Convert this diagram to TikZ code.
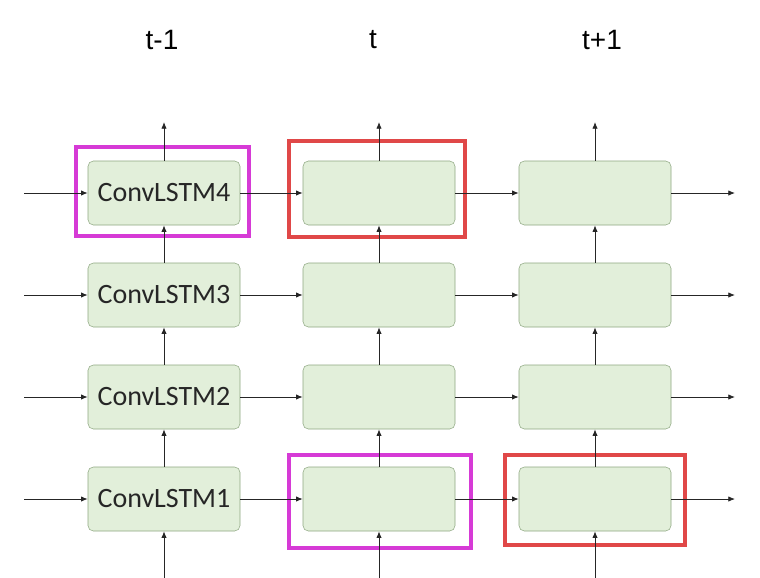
\documentclass[tikz,border=0pt]{standalone}
\usepackage{fontspec}
\setmainfont{Carlito}
\newfontfamily\arialf{Liberation Sans}
\usetikzlibrary{arrows.meta}
\definecolor{cellfill}{HTML}{E2EFDA}
\definecolor{celldraw}{HTML}{8FA882}
\definecolor{mag}{HTML}{D63AD6}
\definecolor{redb}{HTML}{E04848}
\begin{document}
\begin{tikzpicture}[x=0.75pt,y=-0.75pt,
  cell/.style={draw=celldraw,fill=cellfill,rounded corners=4pt,minimum width=114pt,minimum height=48pt,inner sep=0pt},
  celltxt/.style={font=\fontsize{21}{24}\selectfont,text=black!85},
  arr/.style={-{Latex[length=5pt,width=4pt]},draw=black!85,line width=0.6pt},
  hl/.style={line width=2.3pt},
  lab/.style={font=\arialf\fontsize{21}{24}\selectfont}]
\useasboundingbox (0,0) rectangle (760,578);
\fill[white] (0,0) rectangle (760,578);
\node[lab] at (162,40) {t-1};
\node[lab] at (373,40) {t};
\node[lab] at (602,40) {t+1};
\foreach \c/\x in {1/164,2/379,3/595}{
  \foreach \r/\y in {4/193,3/295,2/397,1/499}{
    \node[cell] (n\c\r) at (\x,\y) {};
  }
}
\node[celltxt] at (n14) {ConvLSTM4};
\node[celltxt] at (n13) {ConvLSTM3};
\node[celltxt] at (n12) {ConvLSTM2};
\node[celltxt] at (n11) {ConvLSTM1};
% highlight boxes
\draw[hl,mag] (76,147) rectangle (249,236);
\draw[hl,redb] (289,141) rectangle (465,237);
\draw[hl,mag] (289,455) rectangle (471,548);
\draw[hl,redb] (505,455) rectangle (685,545);
\foreach \r/\y in {4/193,3/295,2/397,1/499}{
  \coordinate (in\r) at (24,\y);
  \coordinate (out\r) at (735,\y);
  \draw[arr] (in\r) -- (n1\r);
  \draw[arr] (n1\r) -- (n2\r);
  \draw[arr] (n2\r) -- (n3\r);
  \draw[arr] (n3\r) -- (out\r);
}
\foreach \c/\x in {1/164,2/379,3/595}{
  \coordinate (top\c) at (\x,122);
  \coordinate (bot\c) at (\x,578);
  \draw[arr] (n\c4) -- (top\c);
  \draw[arr] (n\c3) -- (n\c4);
  \draw[arr] (n\c2) -- (n\c3);
  \draw[arr] (n\c1) -- (n\c2);
  \draw[arr] (bot\c) -- (n\c1);
}
\end{tikzpicture}
\end{document}
